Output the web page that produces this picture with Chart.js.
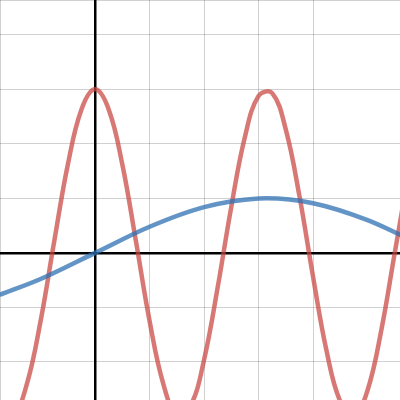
<!DOCTYPE html>
<html>
<head>
<meta charset="utf-8">
<script src="https://cdn.jsdelivr.net/npm/chart.js@4"></script>
<style>
  html, body { margin: 0; padding: 0; background: #fff; }
  #wrap { width: 400px; height: 400px; }
</style>
</head>
<body>
<div id="wrap"><canvas id="grafico"></canvas></div>
<script>
// x positions of the sampled points (grid units)
const xs = [-1.75, -1.5, -1.25, -1, -0.75, -0.5, -0.25, 0, 0.25, 0.5, 0.75, 1, 1.25, 1.5, 1.75,
            2, 2.25, 2.5, 2.75, 3, 3.25, 3.5, 3.75, 4, 4.25, 4.5, 4.75, 5, 5.25, 5.5, 5.75];

// red curve
const redValues = [-2.81, -2.97, -2.40, -1.25, 0.21, 1.62, 2.63, 3, 2.63, 1.62, 0.21, -1.25, -2.40, -2.97, -2.81,
                   -1.96, -0.63, 0.85, 2.13, 2.88, 2.93, 2.26, 1.04, -0.44, -1.81, -2.73, -2.99, -2.52, -1.43, 0.01, 1.45];

// blue curve (sparser samples)
const blueXs = [-1.75, -1, 0, 1, 2, 3, 3.14, 4, 5, 5.75];
const blueValues = [-0.77, -0.48, 0, 0.48, 0.84, 0.997, 1.0, 0.91, 0.60, 0.26];

const toPoints = (px, vals) => px.map((x, i) => ({ x, y: vals[i] }));

// grid: light lines, black axes at 0
const gridColor = ctx => ctx.tick && ctx.tick.value === 0 ? '#000' : 'rgba(0,0,0,0.18)';
const gridWidth = ctx => ctx.tick && ctx.tick.value === 0 ? 2.5 : 1;

new Chart(document.getElementById('grafico'), {
    type: 'line',
    data: {
        datasets: [
            { data: toPoints(blueXs, blueValues), borderColor: 'rgba(45,112,179,0.75)', borderWidth: 4.5, pointRadius: 0, cubicInterpolationMode: 'monotone', fill: false },
            { data: toPoints(xs, redValues), borderColor: 'rgba(199,68,64,0.72)', borderWidth: 4.5, pointRadius: 0, tension: 0.4, fill: false }
        ]
    },
    options: {
        responsive: true,
        maintainAspectRatio: false,
        animation: false,
        layout: { padding: 0 },
        plugins: { legend: { display: false }, tooltip: { enabled: false } },
        scales: {
            x: {
                type: 'linear', min: -1.745, max: 5.595,
                ticks: { display: false, stepSize: 1 },
                border: { display: false },
                grid: { color: gridColor, lineWidth: gridWidth, drawTicks: false }
            },
            y: {
                min: -2.70, max: 4.64,
                ticks: { display: false, stepSize: 1 },
                border: { display: false },
                grid: { color: gridColor, lineWidth: gridWidth, drawTicks: false }
            }
        }
    }
});
</script>
</body>
</html>
